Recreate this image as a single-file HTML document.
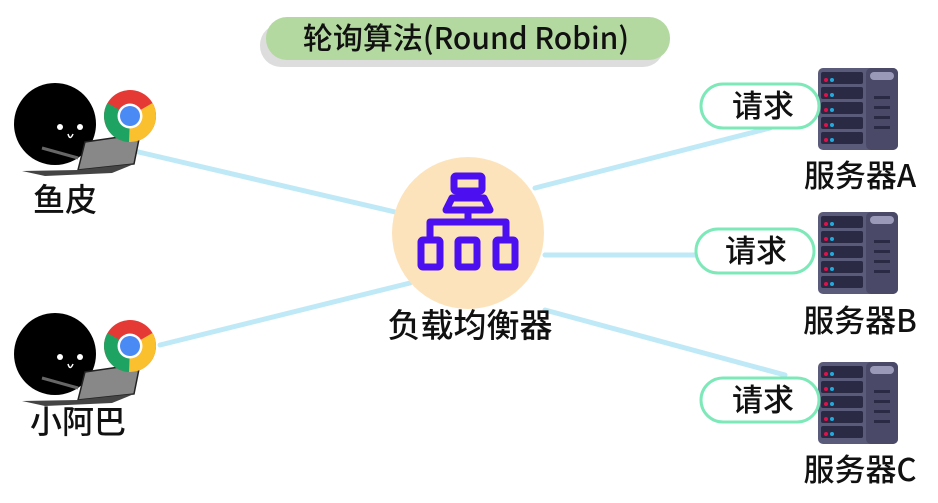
<!DOCTYPE html>
<html><head><meta charset="utf-8"><style>
body{margin:0;background:#fff;}
svg text{font-family:"Noto Sans CJK SC","Liberation Sans",sans-serif;fill:#111;font-weight:500;}
</style></head><body>
<svg width="938" height="498" viewBox="0 0 938 498" xmlns="http://www.w3.org/2000/svg">
<defs>
<g id="client">
  <circle cx="55" cy="0" r="41" fill="#000"/>
  <circle cx="60" cy="3" r="3" fill="#fff"/><circle cx="80" cy="3" r="3" fill="#fff"/>
  <path d="M68 10 q2 7 5 0" stroke="#fff" stroke-width="1.5" fill="none"/>
  <polygon points="85,18 140,10 134,40 78,46" fill="#888" stroke="#222" stroke-width="1.5"/>
  <polygon points="22,47 78,46 134,40 112,49 45,52" fill="#444"/>
  <line x1="42" y1="24" x2="78" y2="34" stroke="#666" stroke-width="3"/>
  <g transform="translate(130,-8)">
    <circle r="26" fill="#e53935"/>
    <path d="M0 0 L-22.5 -13 A26 26 0 0 0 -1 26 Z" fill="#1ea362"/>
    <path d="M0 0 L22.5 -13 A26 26 0 0 1 -1 26 Z" fill="#fbc02d"/>
    <circle r="12.5" fill="#fff"/><circle r="10" fill="#4a8af4"/>
  </g>
</g>
<g id="server">
  <rect x="0" y="0" width="80" height="82" rx="5" fill="#5a5a7a"/>
  <rect x="48" y="0" width="32" height="82" rx="5" fill="#4a4a68"/>
  <rect x="52" y="4" width="24" height="8" rx="4" fill="#9a9ab8"/>
  <g fill="#2a2a44">
    <rect x="3" y="4" width="42" height="12" rx="2"/><rect x="3" y="19" width="42" height="12" rx="2"/>
    <rect x="3" y="34" width="42" height="12" rx="2"/><rect x="3" y="49" width="42" height="12" rx="2"/>
    <rect x="3" y="64" width="42" height="12" rx="2"/>
  </g>
  <g fill="#e0104a"><circle cx="8" cy="12" r="2"/><circle cx="8" cy="27" r="2"/><circle cx="8" cy="42" r="2"/><circle cx="8" cy="57" r="2"/><circle cx="8" cy="72" r="2"/></g>
  <g fill="#2ad"><circle cx="14" cy="12" r="2"/><circle cx="14" cy="27" r="2"/><circle cx="14" cy="42" r="2"/><circle cx="14" cy="57" r="2"/><circle cx="14" cy="72" r="2"/></g>
  <g fill="#2a2a44"><rect x="56" y="28" width="16" height="3"/><rect x="56" y="38" width="16" height="3"/><rect x="56" y="48" width="16" height="3"/><rect x="56" y="58" width="16" height="3"/></g>
</g>
</defs>
<rect x="260" y="24" width="404" height="43" rx="21" fill="#ddd"/>
<rect x="266" y="17" width="404" height="43" rx="21" fill="#b3d9a0"/>
<text x="466" y="49" font-size="30" text-anchor="middle">轮询算法(Round Robin)</text>
<g stroke="#bfe9f6" stroke-width="5" stroke-linecap="round">
<line x1="130" y1="150" x2="395" y2="212"/>
<line x1="160" y1="345" x2="410" y2="283"/>
<line x1="535" y1="188" x2="770" y2="128"/>
<line x1="545" y1="255" x2="700" y2="255"/>
<line x1="545" y1="310" x2="785" y2="375"/>
</g>
<use href="#client" y="124"/>
<use href="#client" y="354"/>
<text x="65" y="211" font-size="32" text-anchor="middle">鱼皮</text>
<text x="78" y="433" font-size="32" text-anchor="middle">小阿巴</text>
<circle cx="468" cy="233" r="76" fill="#fde3bb"/>
<g stroke="#4c0ff0" stroke-width="7" fill="none" stroke-linejoin="round">
<rect x="454" y="176" width="28" height="15" rx="2"/>
<path d="M446 210 L490 210 L484 198 L452 198 Z"/>
<path d="M468 210 V222 M430 242 V222 H506 V242"/>
<rect x="421" y="240" width="19" height="27" rx="2"/><rect x="458" y="240" width="19" height="27" rx="2"/><rect x="496" y="240" width="19" height="27" rx="2"/>
</g>
<text x="470" y="337" font-size="33" text-anchor="middle">负载均衡器</text>
<use href="#server" x="818" y="68"/>
<use href="#server" x="818" y="212"/>
<use href="#server" x="818" y="362"/>
<g fill="#fff" stroke="#7de8b8" stroke-width="3">
<rect x="701" y="84" width="118" height="44" rx="22"/>
<rect x="696" y="229" width="118" height="44" rx="22"/>
<rect x="701" y="378" width="118" height="44" rx="22"/>
</g>
<g font-size="31" text-anchor="middle">
<text x="763" y="117">请求</text><text x="756" y="262">请求</text><text x="763" y="411">请求</text>
<text x="860" y="187">服务器A</text><text x="860" y="332">服务器B</text><text x="860" y="481">服务器C</text>
</g>
</svg>
</body></html>
